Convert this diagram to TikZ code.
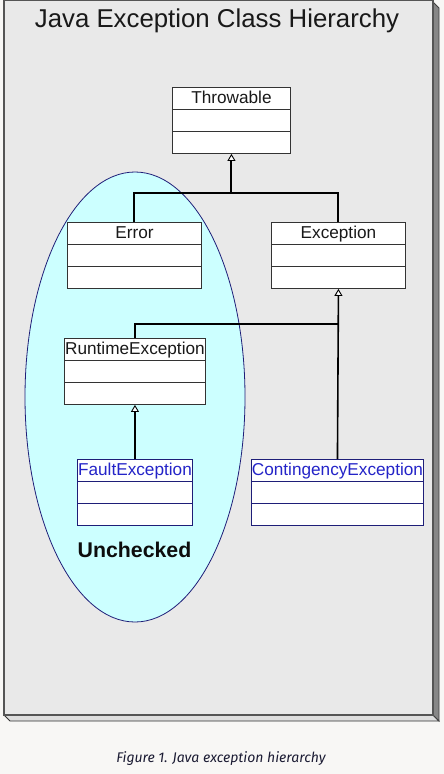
\documentclass[tikz,border=0pt]{standalone}
\usepackage{fontspec}
\setmainfont{Liberation Sans}
\newfontfamily\capfont{Fira Sans}
\usetikzlibrary{arrows.meta,calc,shapes.geometric}
\definecolor{pagebg}{HTML}{F8F7F5}
\definecolor{panelbg}{HTML}{E9E9E9}
\definecolor{paneledge}{HTML}{555555}
\definecolor{ovalfill}{HTML}{CCFFFF}
\definecolor{navy}{HTML}{1E1E78}
\definecolor{bluetext}{HTML}{2424C8}
\definecolor{boxedge}{HTML}{333333}
\definecolor{captext}{HTML}{1B1B33}
\newcommand\umlclass[7]{%
  \node[classbox, draw=#5, minimum width=#4pt] (#1) at (#2,#3) {};
  \draw[draw=#5, line width=0.9pt] ($(#1.north west)+(0,22)$) -- ($(#1.north east)+(0,22)$);
  \draw[draw=#5, line width=0.9pt] ($(#1.north west)+(0,44)$) -- ($(#1.north east)+(0,44)$);
  \node[boxlabel, text=#6] (#1-label) at ($(#1.north)+(0,16.3)$) {#7};
}
\begin{document}
\begin{tikzpicture}[x=1pt,y=-1pt,
  classbox/.style={fill=white, line width=0.9pt, minimum height=66pt, inner sep=0pt, anchor=north west},
  boxlabel/.style={anchor=base, inner sep=0pt, font=\fontsize{17.2}{20}\selectfont},
  conn/.style={line width=1.6pt, draw=black},
  inherit/.style={-{Triangle[fill=white,length=7pt,width=8pt,line width=0.9pt]}}
]
\useasboundingbox (0,0) rectangle (444,774);
\fill[pagebg] (0,0) rectangle (444,774);
% 3D panel
\filldraw[fill=black!13, draw=black!80, line width=0.8pt] (4,715) -- (10,721) -- (439,721) -- (433,715) -- cycle;
\filldraw[fill=black!47, draw=black!75, line width=0.8pt] (433,2) -- (439,8) -- (439,721) -- (433,715) -- cycle;
\filldraw[fill=panelbg, draw=paneledge, line width=1.5pt] (4,0.5) rectangle (433,715);
\node[anchor=base, inner sep=0pt, font=\fontsize{25.8}{30}\selectfont, text=black!90] (title) at (217,27.5) {Java Exception Class Hierarchy};
% unchecked oval
\node[ellipse, draw=navy, fill=ovalfill, line width=0.8pt, minimum width=220pt, minimum height=450pt, inner sep=0pt] (oval) at (135,397) {};
\node[anchor=base, inner sep=0pt, font=\bfseries\fontsize{21.3}{25}\selectfont, text=black!95] (unchecked) at (134.5,557.7) {Unchecked};
% classes
\umlclass{thr}{172}{87}{118}{boxedge}{black!90}{Throwable}
\umlclass{err}{67}{222}{134}{boxedge}{black!90}{Error}
\umlclass{exc}{271}{222}{134}{boxedge}{black!90}{Exception}
\umlclass{rte}{64}{338}{141}{boxedge}{black!90}{RuntimeException}
\umlclass{flt}{77}{459}{115}{navy}{bluetext}{FaultException}
\umlclass{cnt}{251}{459}{172}{navy}{bluetext}{ContingencyException}
% connectors
\coordinate (j1) at ($(thr.south)+(0,39)$);
\coordinate (j2) at ($(exc.south)+(0,35)$);
\draw[conn, line width=2pt] (err.north) |- (j1) -| (exc.north);
\draw[conn, line width=2pt, inherit] (j1) -- (thr.south);
\draw[conn] (rte.north) |- (j2);
\draw[conn, inherit] (cnt.north) -- (exc.south);
\draw[conn, inherit] (flt.north) -- (rte.south);
% caption
\node[anchor=base, inner sep=0pt, font=\capfont\itshape\fontsize{14}{17}\selectfont, text=captext] (caption) at (221,762.5) {Figure 1. Java exception hierarchy};
\end{tikzpicture}
\end{document}
